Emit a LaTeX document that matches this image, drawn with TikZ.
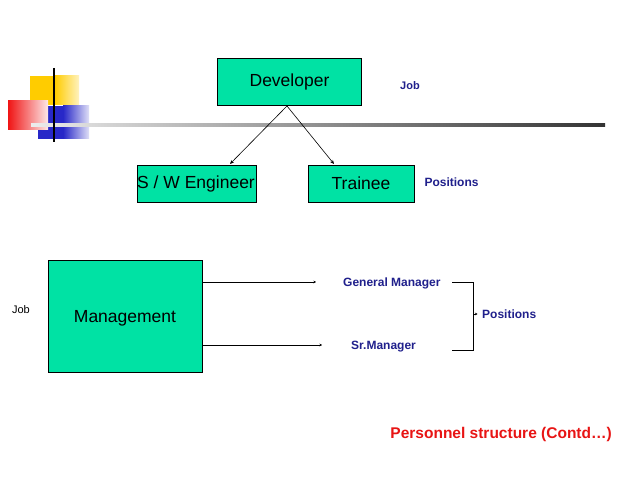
\documentclass[tikz,border=0pt]{standalone}
\usepackage{fontspec}
\setmainfont{Liberation Sans}
\usetikzlibrary{arrows.meta}
\definecolor{boxgreen}{RGB}{0,226,164}
\definecolor{navy}{RGB}{32,32,140}
\definecolor{redtxt}{RGB}{232,20,20}
\definecolor{gold}{RGB}{255,204,0}
\definecolor{logored}{RGB}{240,20,20}
\definecolor{logoblue}{RGB}{40,40,200}
\begin{document}
\begin{tikzpicture}[x=1pt,y=-1pt,
  box/.style={draw=black, line width=0.8pt, fill=boxgreen, inner sep=0pt, font=\fontsize{17.5}{20}\selectfont},
  navylbl/.style={text=navy, font=\bfseries\fontsize{12}{14}\selectfont, inner sep=0pt},
  plainlbl/.style={text=black, font=\fontsize{11}{13}\selectfont, inner sep=0pt},
  tip/.style={line width=0.6pt, -{Stealth[length=4pt,width=3.5pt]}},
  smalltip/.style={line width=0.6pt, -{Stealth[length=2.5pt,width=2.5pt]}},
  conn/.style={line width=0.6pt}]
\useasboundingbox (0,0) rectangle (638,478);
\fill[white] (0,0) rectangle (638,478);
% logo
\fill[gold] (30,76) rectangle (55,105);
\shade[left color=gold, right color=gold!25] (55,76) rectangle (79,105);
\fill[logoblue] (38,106) rectangle (63,139);
\shade[left color=logoblue, right color=logoblue!15] (63,106) rectangle (89,139);
\shade[left color=logored, right color=logored!10] (8,101) rectangle (48,130);
\shade[left color=white!85!gray, right color=black!80] (31,123.5) rectangle (605,126.5);
\draw[line width=2pt, black] (54,68) -- (54,142);
% top tree
\node[box, minimum width=144pt, minimum height=47pt] (dev) at (289.5,81.5) {Developer};
\node[box, minimum width=119pt, minimum height=37pt] (swe) at (196.5,183.5) {};
\node[font=\fontsize{17.5}{20}\selectfont, inner sep=0pt] (swetxt) at (196,184) {S / W Engineer};
\node[box, minimum width=106pt, minimum height=37pt] (tr) at (361,183.5) {Trainee};
\node[navylbl, font=\bfseries\fontsize{11}{13}\selectfont] (job1) at (410,86) {Job};
\node[navylbl] (pos1) at (451.5,182) {Positions};
\coordinate (devb) at (287,106);
\coordinate (swetop) at (230,164);
\coordinate (trtop) at (334,164);
\draw[tip] (devb) -- (swetop);
\draw[tip] (devb) -- (trtop);
% management
\node[box, minimum width=154pt, minimum height=112pt] (mgmt) at (125,316) {};
\node[font=\fontsize{17.5}{20}\selectfont, inner sep=0pt] (mgmttxt) at (125,318) {Management};
\node[plainlbl] (job2) at (21,310) {Job};
\node[navylbl, anchor=west] (gm) at (343,283) {General Manager};
\node[navylbl, anchor=west] (sr) at (351,347) {Sr.Manager};
\coordinate (gmend) at (316,282);
\coordinate (srend) at (322,345);
\draw[smalltip] (mgmt.east |- gmend) -- (gmend);
\draw[smalltip] (mgmt.east |- srend) -- (srend);
% bracket
\coordinate (bt) at (452,282);
\coordinate (btc) at (473,282);
\coordinate (bbc) at (473,350);
\coordinate (bb) at (452,350);
\coordinate (bm) at (473,314);
\coordinate (bmend) at (477.5,314);
\node[navylbl, anchor=west] (pos2) at (482,314) {Positions};
\draw[conn] (bt) -- (btc) -- (bbc) -- (bb);
\draw[smalltip] (bm) -- (bmend);
% caption
\node[text=redtxt, font=\bfseries\fontsize{15.5}{18}\selectfont, inner sep=0pt, anchor=east] (cap) at (612,434) {Personnel structure (Contd…)};
\end{tikzpicture}
\end{document}
